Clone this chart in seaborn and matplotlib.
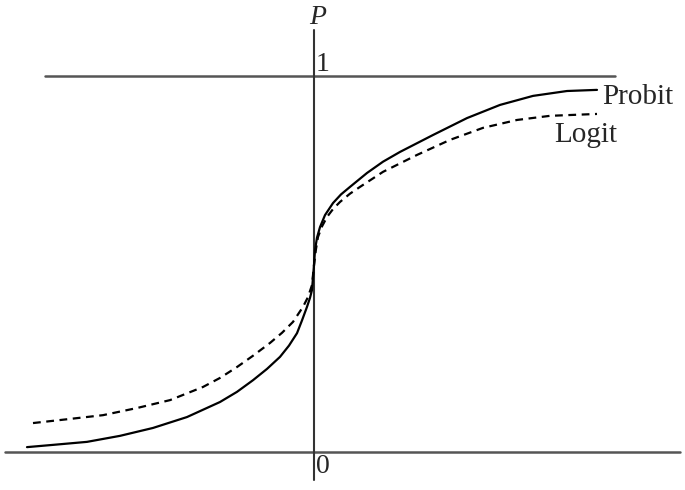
import matplotlib
matplotlib.use('Agg')
import matplotlib.pyplot as plt
import seaborn as sns
import pandas as pd

# curve points (x: arbitrary units, y: probability P)
probit_x = [-2.87, -2.61, -2.27, -1.94, -1.61, -1.27, -0.94, -0.77, -0.61, -0.47,
            -0.34, -0.25, -0.17, -0.12, -0.07, -0.04, -0.02, 0.00, 0.01, 0.03,
            0.06, 0.11, 0.19, 0.27, 0.36, 0.53, 0.69, 0.86, 1.19, 1.53,
            1.86, 2.19, 2.53, 2.83]
probit_y = [0.013, 0.019, 0.027, 0.043, 0.064, 0.093, 0.133, 0.160, 0.191, 0.221,
            0.253, 0.283, 0.316, 0.350, 0.386, 0.410, 0.431, 0.497, 0.537, 0.570,
            0.598, 0.630, 0.662, 0.685, 0.705, 0.742, 0.772, 0.798, 0.843, 0.888,
            0.923, 0.947, 0.960, 0.963]
logit_x = [-2.81, -2.44, -2.11, -1.77, -1.44, -1.11, -0.94, -0.77, -0.61, -0.44,
           -0.32, -0.21, -0.11, -0.06, -0.02, 0.00, 0.02, 0.04, 0.08, 0.13,
           0.19, 0.26, 0.36, 0.46, 0.69, 1.03, 1.36, 1.69, 2.03, 2.36, 2.83]
logit_y = [0.077, 0.088, 0.098, 0.117, 0.138, 0.173, 0.197, 0.226, 0.256, 0.290,
           0.317, 0.346, 0.386, 0.412, 0.444, 0.497, 0.540, 0.572, 0.600, 0.625,
           0.646, 0.665, 0.687, 0.705, 0.745, 0.790, 0.830, 0.862, 0.883, 0.894,
           0.899]

probit = pd.DataFrame({'x': probit_x, 'P': probit_y})
logit = pd.DataFrame({'x': logit_x, 'P': logit_y})

sns.set_style('white')
plt.rcParams['font.family'] = ['Liberation Serif', 'DejaVu Serif']

fig = plt.figure(figsize=(6.85, 4.9), dpi=100)
ax = fig.add_axes([0, 0, 1, 1])
ax.set_xlim(-3.14, 3.71)
ax.set_ylim(-0.101, 1.202)
ax.axis('off')

# eixos e assíntota P = 1
axis_color = '#555555'
ax.plot([-3.09, 3.66], [0, 0], color=axis_color, lw=1.8)
ax.plot([-2.69, 3.01], [1, 1], color=axis_color, lw=1.8)
ax.plot([0, 0], [-0.074, 1.122], color='#333333', lw=1.5)

sns.lineplot(x='x', y='P', data=probit, ax=ax, color='black', lw=1.6,
             sort=False, estimator=None, solid_joinstyle='round')
sns.lineplot(x='x', y='P', data=logit, ax=ax, color='black', lw=1.6,
             linestyle=(0, (3.5, 2.5)), sort=False, estimator=None)

ax.text(0.04, 1.155, 'P', fontsize=20, style='italic', ha='center', va='center')
ax.text(0.085, 1.03, '1', fontsize=20, ha='center', va='center')
ax.text(0.09, -0.038, '0', fontsize=20, ha='center', va='center')
ax.text(2.88, 0.945, 'Probit', fontsize=21, ha='left', va='center')
ax.text(2.40, 0.843, 'Logit', fontsize=21, ha='left', va='center')

fig.savefig('out.png', dpi=100)
